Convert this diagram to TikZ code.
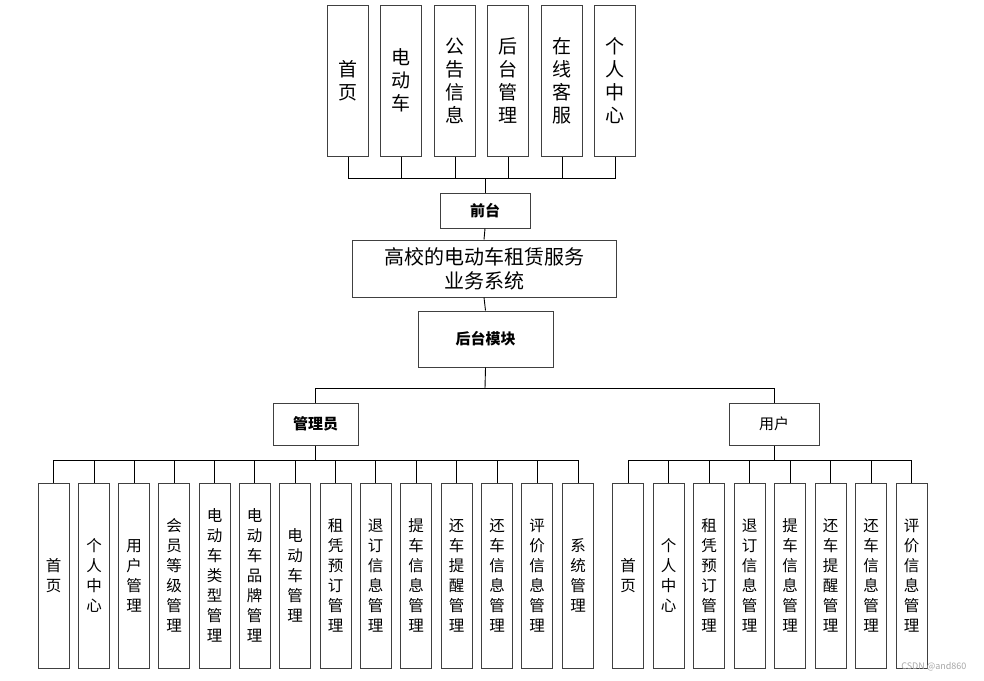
\documentclass[tikz,border=0pt]{standalone}
\usepackage{fontspec}
\setmainfont{Noto Sans CJK SC}
\begin{document}
\begin{tikzpicture}[x=1pt,y=-1pt,
  bx/.style={draw=black!75,line width=1pt,minimum width=#1,inner sep=0pt,align=center},
  ln/.style={draw=black,line width=0.9pt},
  big/.style={font=\fontsize{19}{23}\selectfont},
  sm/.style={font=\fontsize{15.5}{20}\selectfont},
  hd/.style={font=\fontsize{15}{18}\selectfont\bfseries}]
\useasboundingbox (0,0) rectangle (984,680);
% top boxes
\foreach \i/\x/\t in {1/348/首\\页,2/401/电\\动\\车,3/455/公\\告\\信\\息,4/508/后\\台\\管\\理,5/562/在\\线\\客\\服,6/615/个\\人\\中\\心}
  \node[bx=41,minimum height=151,big] (t\i) at (\x,80.5) {\t};
\node[bx=90,minimum height=35,hd] (qt) at (485,210.5) {前台};
\node[bx=264,minimum height=57,font=\fontsize{20}{24}\selectfont] (sys) at (484,268.5) {高校的电动车租赁服务\\业务系统};
\node[bx=135,minimum height=56,hd] (ht) at (485.5,339) {后台模块};
\node[bx=85,minimum height=42,hd] (adm) at (315.5,424) {管理员};
\node[bx=90,minimum height=42,font=\fontsize{15}{18}\selectfont] (usr) at (774,424) {用户};
\coordinate (busT) at (485,178);
\foreach \i in {1,...,6} \draw[ln] (t\i.south) |- (busT);
\draw[ln] (busT) -- (qt.north);
\draw[ln] (qt.south) -- (sys.north);
\draw[ln] (sys.south) -- (ht.north);
\coordinate (busM) at (485,388);
\draw[ln] (ht.south) -- (busM);
\draw[ln] (adm.north) |- (busM);
\draw[ln] (usr.north) |- (busM);
% admin children
\coordinate (busA) at (315.5,460);
\draw[ln] (adm.south) -- (busA);
\foreach \i/\x/\t in {1/53.5/首\\页,2/94/个\\人\\中\\心,3/134/用\\户\\管\\理,4/174/会\\员\\等\\级\\管\\理,5/214.5/电\\动\\车\\类\\型\\管\\理,6/254.5/电\\动\\车\\品\\牌\\管\\理,7/295/电\\动\\车\\管\\理,8/335.5/租\\凭\\预\\订\\管\\理,9/375.5/退\\订\\信\\息\\管\\理,10/416/提\\车\\信\\息\\管\\理,11/456.5/还\\车\\提\\醒\\管\\理,12/497/还\\车\\信\\息\\管\\理,13/537/评\\价\\信\\息\\管\\理,14/578/系\\统\\管\\理}
{ \node[bx=31,minimum height=185,sm] (a\i) at (\x,575.5) {\t};
  \draw[ln] (a\i.north) |- (busA); }
\coordinate (busU) at (774,460);
\draw[ln] (usr.south) -- (busU);
\foreach \i/\x/\t in {1/628/首\\页,2/668.5/个\\人\\中\\心,3/709/租\\凭\\预\\订\\管\\理,4/749.5/退\\订\\信\\息\\管\\理,5/790/提\\车\\信\\息\\管\\理,6/830.5/还\\车\\提\\醒\\管\\理,7/871/还\\车\\信\\息\\管\\理,8/911.5/评\\价\\信\\息\\管\\理}
{ \node[bx=31,minimum height=185,sm] (u\i) at (\x,575.5) {\t};
  \draw[ln] (u\i.north) |- (busU); }
\node[font=\fontsize{9}{10}\selectfont,text=black!35,anchor=east] (wm) at (970,667) {CSDN @and860};
\end{tikzpicture}
\end{document}
